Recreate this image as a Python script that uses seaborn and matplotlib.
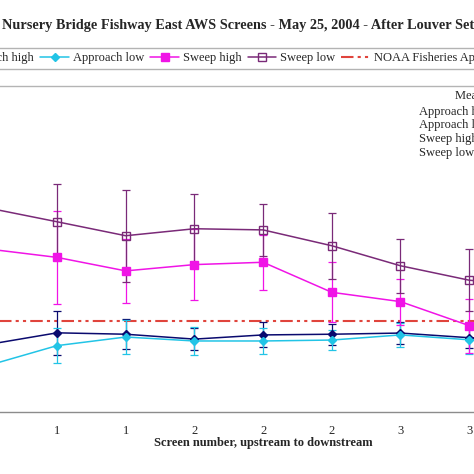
import numpy as np
import pandas as pd
import matplotlib.pyplot as plt
import seaborn as sns

# Screen positions (category axis), values in ft/s
screen_labels = ["1", "1", "1", "2", "2", "2", "3", "3", "3"]
approach_high = [0.29, 0.34, 0.334, 0.313, 0.331, 0.334, 0.339, 0.319, 0.31]
approach_high_err = [0.08, 0.094, 0.064, 0.047, 0.054, 0.045, 0.047, 0.045, 0.05]
approach_low = [0.20, 0.285, 0.322, 0.305, 0.305, 0.309, 0.331, 0.31, 0.30]
approach_low_err = [0.07, 0.075, 0.071, 0.06, 0.056, 0.043, 0.05, 0.06, 0.05]
sweep_high = [0.70, 0.664, 0.606, 0.633, 0.643, 0.514, 0.474, 0.371, 0.35]
sweep_high_err = [0.18, 0.20, 0.136, 0.152, 0.119, 0.129, 0.099, 0.116, 0.11]
sweep_low = [0.876, 0.817, 0.757, 0.787, 0.782, 0.714, 0.628, 0.566, 0.54]
sweep_low_err = [0.15, 0.162, 0.197, 0.149, 0.112, 0.142, 0.117, 0.134, 0.13]
noaa_criterion = 0.39

title = "Nursery Bridge Fishway East AWS Screens - May 25, 2004 - After Louver Settings"

sns.set_theme(style="white")
plt.rcParams["font.family"] = ["Liberation Serif", "DejaVu Serif"]

W = 474.0
def fx(px):
    return px / W
def fy(py):
    return 1 - py / W

pos = np.arange(len(screen_labels))
df = pd.DataFrame({
    "pos": np.tile(pos, 4),
    "value": approach_high + approach_low + sweep_high + sweep_low,
    "err": approach_high_err + approach_low_err + sweep_high_err + sweep_low_err,
    "series": np.repeat(["Approach high", "Approach low", "Sweep high", "Sweep low"], len(pos)),
})

styles = {
    "Approach high": dict(color="#0A0A6E", marker="D", ms=4, mfc="#0A0A6E"),
    "Approach low": dict(color="#22C4E6", marker="D", ms=4, mfc="#22C4E6"),
    "Sweep high": dict(color="#F014E6", marker="s", ms=6, mfc="#F014E6"),
    "Sweep low": dict(color="#7A2A78", marker="s", ms=6, mfc="none"),
}

fig = plt.figure(figsize=(4.74, 4.74), dpi=100)
# plot area: category spacing ~68.7 px, first category centre at -11.7 px
step = 68.7
x_left = -11.7 - 0.5 * step
x_right = -11.7 + (len(pos) - 0.5) * step
ax = fig.add_axes([fx(x_left), fy(412), (x_right - x_left) / W, (412 - 86) / W])

for name, st in styles.items():
    sub = df[df["series"] == name]
    ax.errorbar(sub["pos"], sub["value"], yerr=sub["err"], fmt="none",
                ecolor=st["color"], elinewidth=0.9, capsize=3, capthick=0.9, zorder=2)
    sns.lineplot(data=sub, x="pos", y="value", ax=ax, color=st["color"], lw=1.1,
                 marker=st["marker"], markersize=st["ms"], markerfacecolor=st["mfc"],
                 markeredgecolor=st["color"], markeredgewidth=1, label=name, zorder=3)

ax.axhline(noaa_criterion, color="#E0443C", lw=1.5, dashes=(6, 2, 1.5, 2, 1.5, 2),
           label="NOAA Fisheries Approach Velocity Criterion", zorder=1)

ax.set_xlim(-0.5, len(pos) - 0.5)
ax.set_ylim(0, 1.4)
# only the screens inside the visible part of the chart get a label
shown = pos[1:-1]
ax.set_xticks(shown)
ax.set_xticklabels([screen_labels[i] for i in shown], fontsize=9)
ax.set_xticks(np.arange(len(pos) - 1) + 0.5, minor=True)
ax.tick_params(axis="x", which="major", length=0, pad=9)
ax.tick_params(axis="x", which="minor", length=3, color="#909090", width=0.8, direction="out")
ax.set_yticks([])
ax.set_xlabel("Screen number, upstream to downstream", fontsize=9, fontweight="bold", labelpad=0.5)
ax.set_ylabel("")
for side in ["left", "right"]:
    ax.spines[side].set_visible(False)
ax.spines["bottom"].set_color("#8C8C8C")
ax.spines["bottom"].set_linewidth(1.0)
ax.spines["top"].set_color("#B4B4B4")
ax.spines["top"].set_linewidth(1.0)

handles, labels = ax.get_legend_handles_labels()
ax.legend_.remove()
fig.legend(handles, labels, loc="center left", bbox_to_anchor=(fx(-84), fy(58.5)),
           ncol=5, fontsize=9, frameon=True, fancybox=False, edgecolor="#A0A0A0",
           handlelength=2.3, handletextpad=0.3, columnspacing=0.5, borderpad=0.35)

fig.text(fx(2), fy(26), title, ha="left", va="center", fontsize=10.3, fontweight="bold")

box_lines = ["Mean (ft/s)", "Approach high = 0.32", "Approach low = 0.30",
             "Sweep high = 0.55", "Sweep low = 0.74"]
fig.text(fx(455), fy(96), box_lines[0], ha="left", va="center", fontsize=9)
for i, txt in enumerate(box_lines[1:]):
    fig.text(fx(419), fy(111.5 + 13.7 * i), txt, ha="left", va="center", fontsize=9)

fig.savefig("out.png", dpi=100, facecolor="white")
